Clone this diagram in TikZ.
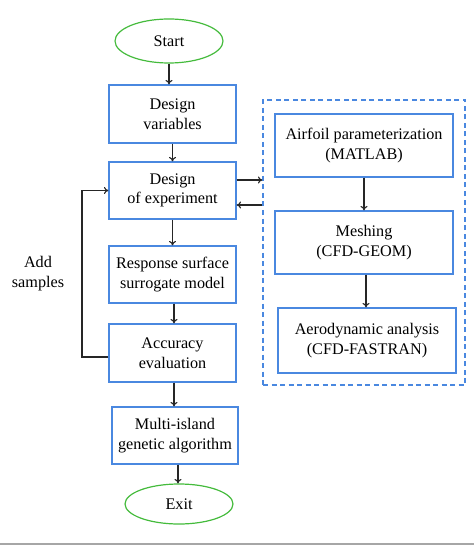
\documentclass[tikz,border=0pt]{standalone}
\usepackage{fontspec}
\setmainfont{Liberation Serif}
\usetikzlibrary{shapes.geometric,arrows.meta}
\definecolor{boxblue}{HTML}{4A88E0}
\definecolor{dashblue}{HTML}{4A88E0}
\definecolor{termgreen}{HTML}{44BB3C}
\tikzset{
  box/.style={draw=boxblue, line width=1.2pt, rectangle, align=center, inner sep=0pt, font=\fontsize{16.2}{19.5}\selectfont},
  term/.style={draw=termgreen, line width=1.2pt, ellipse, inner sep=0pt, font=\fontsize{16.2}{19.5}\selectfont},
  panelbox/.style={draw=dashblue, line width=1.2pt, dash pattern=on 5pt off 3.5pt, rectangle, inner sep=0pt},
  arr/.style={draw=black!85, line width=1.1pt, -{To[length=4.5pt,width=7pt]}},
  plain/.style={draw=black!85, line width=1.1pt}
}
\begin{document}
\begin{tikzpicture}[x=1pt,y=-1pt]
\useasboundingbox (0,0) rectangle (474,545);
\fill[black!35] (0,542.5) rectangle (474,545);

\node[term, minimum width=108pt, minimum height=44pt] (start) at (169,41) {Start};
\node[box, minimum width=127pt, minimum height=58pt] (dv) at (172.5,114) {Design\\variables};
\node[box, minimum width=127pt, minimum height=57pt] (doe) at (172.5,190.5) {Design\\of experiment};
\node[box, minimum width=127pt, minimum height=57pt] (rs) at (172.5,274.5) {Response surface\\surrogate model};
\node[box, minimum width=127pt, minimum height=58pt] (acc) at (172.5,353) {Accuracy\\evaluation};
\node[box, minimum width=126pt, minimum height=57pt] (mi) at (175,435.5) {Multi-island\\genetic algorithm};
\node[term, minimum width=108pt, minimum height=40pt] (exit) at (179,504) {Exit};

\node[panelbox, minimum width=202pt, minimum height=285pt] (panel) at (364,242.5) {};
\node[box, minimum width=178pt, minimum height=63pt] (af) at (364,145.5) {Airfoil parameterization\\(MATLAB)};
\node[box, minimum width=178pt, minimum height=63pt] (mesh) at (364,242.5) {Meshing\\(CFD-GEOM)};
\node[box, minimum width=178pt, minimum height=65pt] (aero) at (367,340.5) {Aerodynamic analysis\\(CFD-FASTRAN)};

\node[align=center, font=\fontsize{16.2}{20}\selectfont] (add) at (38,274) {Add\\samples};

\draw[arr] (start.south) -- (start.south |- dv.north);
\draw[arr] (dv.south) -- (doe.north);
\draw[arr] (doe.south) -- (rs.north);
\draw[arr] ([xshift=1.5pt]rs.south) -- ([xshift=1.5pt]rs.south |- acc.north);
\draw[arr] ([xshift=1.5pt]acc.south) -- ([xshift=1.5pt]acc.south |- mi.north);
\draw[arr] ([xshift=3pt]mi.south) -- ([xshift=3pt]mi.south |- exit.north);
\draw[arr] (af.south) -- (af.south |- mesh.north);
\draw[arr] ([xshift=2pt]mesh.south) -- ([xshift=2pt]mesh.south |- aero.north);

\draw[arr] ([yshift=10.5pt]doe.east) -- ([yshift=10.5pt]doe.east -| panel.west);
\draw[arr] ([yshift=-14.5pt]doe.east -| panel.west) -- ([yshift=-14.5pt]doe.east);

\coordinate (fb) at (82,357);
\draw[arr] ([yshift=-4pt]acc.west) -- (fb) |- (doe.west);
\end{tikzpicture}
\end{document}
